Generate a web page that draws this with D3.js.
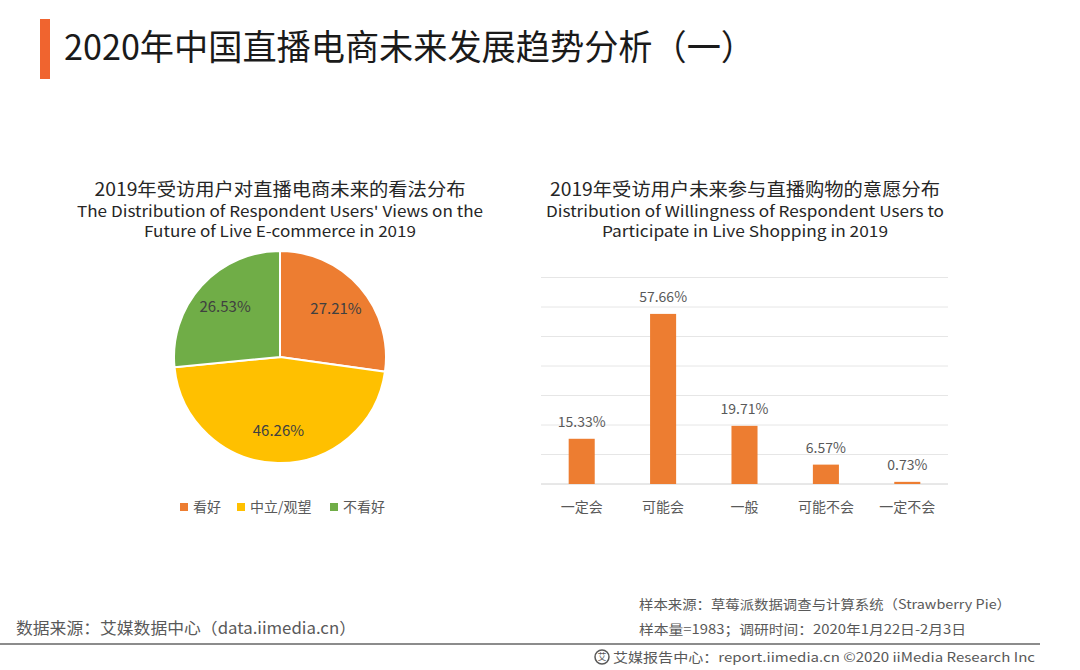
<!DOCTYPE html>
<html>
<head>
<meta charset="utf-8">
<script src="https://cdn.jsdelivr.net/npm/d3@7"></script>
<style>
  body { margin: 0; background: #fff; }
  text { font-family: "Noto Sans CJK SC", "Noto Sans", sans-serif; }
</style>
</head>
<body>
<script>
// 饼图数据
const pieLabels = ['看好', '中立/观望', '不看好'];
const pieValues = [27.21, 46.26, 26.53];
const pieColors = ['#ED7D31', '#FFC000', '#70AD47'];

// 柱状图数据
const barCats = ['一定会', '可能会', '一般', '可能不会', '一定不会'];
const barValues = [15.33, 57.66, 19.71, 6.57, 0.73];
const barTicks = [0, 10, 20, 30, 40, 50, 60, 70];

const W = 1080, H = 670;
const svg = d3.select('body').append('svg').attr('width', W).attr('height', H);

// 标题
svg.append('rect').attr('x', 40).attr('y', 19).attr('width', 10).attr('height', 60).attr('fill', '#F0642F');
svg.append('text').attr('x', 64).attr('y', 60)
  .attr('font-size', 35).attr('fill', '#1a1a1a')
  .attr('textLength', 691).attr('lengthAdjust', 'spacingAndGlyphs')
  .text('2020年中国直播电商未来发展趋势分析（一）');

// 副标题：文字, 中心x, 宽度
function subTitle(lines, cx, widths) {
  svg.append('g').selectAll('text').data(lines).enter().append('text')
    .attr('x', (d, i) => cx - widths[i] / 2)
    .attr('y', (d, i) => [196, 217, 237][i])
    .attr('font-size', (d, i) => i === 0 ? 18 : 15)
    .attr('font-family', (d, i) => i === 0 ? '"Noto Sans CJK SC", sans-serif' : '"Noto Sans", sans-serif')
    .attr('textLength', (d, i) => widths[i]).attr('lengthAdjust', 'spacingAndGlyphs')
    .attr('fill', '#262626')
    .text(d => d);
}

// ---- 饼图 ----
const pcx = 280, pcy = 357, pr = 106;
subTitle(['2019年受访用户对直播电商未来的看法分布',
  "The Distribution of Respondent Users' Views on the",
  'Future of Live E-commerce in 2019'], 280, [371, 406, 272]);

const pie = d3.pie().sort(null).value(d => d)(pieValues);
const arc = d3.arc().innerRadius(0).outerRadius(pr);
const labelArc = d3.arc().innerRadius(pr * 0.7).outerRadius(pr * 0.7);
const pg = svg.append('g').attr('transform', `translate(${pcx},${pcy})`);
pg.selectAll('path').data(pie).enter().append('path')
  .attr('d', arc)
  .attr('fill', (d, i) => pieColors[i])
  .attr('stroke', '#fff').attr('stroke-width', 2);
pg.selectAll('text').data(pie).enter().append('text')
  .attr('transform', d => `translate(${labelArc.centroid(d)})`)
  .attr('text-anchor', 'middle').attr('dy', '0.35em')
  .attr('font-size', 15).attr('fill', '#404040')
  .text(d => d.data.toFixed(2) + '%');

// 图例
const legX = [180, 237, 330];
const leg = svg.append('g').selectAll('g').data(pieLabels).enter().append('g')
  .attr('transform', (d, i) => `translate(${legX[i]},507)`);
leg.append('rect').attr('x', 0).attr('y', -4).attr('width', 8).attr('height', 8)
  .attr('fill', (d, i) => pieColors[i]);
leg.append('text').attr('x', 13).attr('dy', '0.35em')
  .attr('font-size', 14).attr('fill', '#595959').text(d => d);

// ---- 柱状图 ----
subTitle(['2019年受访用户未来参与直播购物的意愿分布',
  'Distribution of Willingness of Respondent Users to',
  'Participate in Live Shopping in 2019'], 745, [390, 398, 286]);

const x = d3.scaleBand().domain(barCats).range([541, 948]).paddingInner(0.68).paddingOuter(0.34);
const y = d3.scaleLinear().domain([0, 70]).range([484, 277.5]);

svg.append('g').selectAll('line').data(barTicks).enter().append('line')
  .attr('x1', 541).attr('x2', 948)
  .attr('y1', d => y(d)).attr('y2', d => y(d))
  .attr('stroke', d => d === 0 ? '#d0d0d0' : '#e6e6e6').attr('stroke-width', 1);

svg.append('g').selectAll('rect').data(barValues).enter().append('rect')
  .attr('x', (d, i) => x(barCats[i]))
  .attr('width', x.bandwidth())
  .attr('y', d => y(d))
  .attr('height', d => y(0) - y(d))
  .attr('fill', '#ED7D31');

svg.append('g').selectAll('text').data(barValues).enter().append('text')
  .attr('x', (d, i) => x(barCats[i]) + x.bandwidth() / 2)
  .attr('y', d => y(d) - 12)
  .attr('text-anchor', 'middle')
  .attr('font-size', 14).attr('fill', '#595959')
  .text(d => d.toFixed(2) + '%');

const xAxis = svg.append('g').attr('transform', 'translate(0,484)')
  .call(d3.axisBottom(x).tickSize(0).tickPadding(18));
xAxis.select('.domain').remove();
xAxis.selectAll('text').attr('font-size', 14).attr('fill', '#595959')
  .attr('font-family', '"Noto Sans CJK SC", sans-serif');

// ---- 底部 ----
svg.append('text').attr('x', 16).attr('y', 634)
  .attr('font-size', 16).attr('fill', '#595959')
  .attr('textLength', 340).attr('lengthAdjust', 'spacingAndGlyphs')
  .text('数据来源：艾媒数据中心（data.iimedia.cn）');
svg.append('text').attr('x', 639).attr('y', 609)
  .attr('font-size', 13).attr('fill', '#595959')
  .attr('textLength', 372).attr('lengthAdjust', 'spacingAndGlyphs')
  .text('样本来源：草莓派数据调查与计算系统（Strawberry Pie）');
svg.append('text').attr('x', 639).attr('y', 634)
  .attr('font-size', 13).attr('fill', '#595959')
  .attr('textLength', 327).attr('lengthAdjust', 'spacingAndGlyphs')
  .text('样本量=1983；调研时间：2020年1月22日-2月3日');
svg.append('line').attr('x1', 0).attr('x2', 1040).attr('y1', 644).attr('y2', 644)
  .attr('stroke', '#8c8c8c').attr('stroke-width', 2);
svg.append('circle').attr('cx', 602).attr('cy', 657).attr('r', 7)
  .attr('fill', 'none').attr('stroke', '#595959').attr('stroke-width', 1.5);
svg.append('text').attr('x', 602).attr('y', 657).attr('dy', '0.35em')
  .attr('text-anchor', 'middle').attr('font-size', 9).attr('fill', '#595959').text('艾');
svg.append('text').attr('x', 613).attr('y', 662)
  .attr('font-size', 13).attr('fill', '#595959')
  .attr('textLength', 422).attr('lengthAdjust', 'spacingAndGlyphs')
  .text('艾媒报告中心：report.iimedia.cn  ©2020  iiMedia Research Inc');
</script>
</body>
</html>
